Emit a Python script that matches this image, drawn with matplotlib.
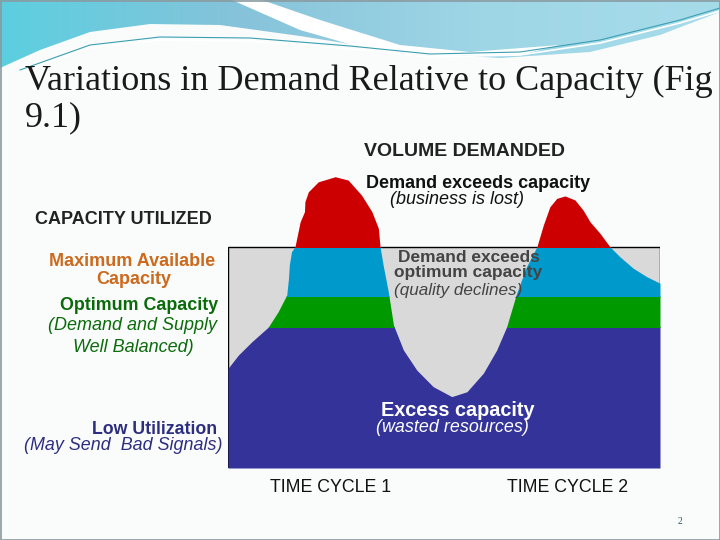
import numpy as np
import matplotlib.pyplot as plt
from matplotlib.patches import Rectangle, Polygon
from matplotlib.colors import LinearSegmentedColormap

# demand over two time cycles (time 0-100, capacity utilised in % of max capacity)
time = [0, 2.4, 5.5, 9.3, 11.6, 13.6, 14.0, 14.2, 14.7, 15.5, 16.7, 17.7, 17.8, 18.6,
        20.9, 24.8, 27.8, 30.9, 33.3, 34.8, 35.2, 35.9, 37.1, 38.3, 40.6, 43.7, 47.5,
        51.8, 55.3, 59.1, 62.2, 64.5, 66.8, 69.1, 71.5, 73.0, 74.5, 76.1, 78.0, 80.3,
        82.2, 83.8, 86.1, 88.4, 90.7, 93.8, 96.9, 100]
demand = [45.1, 51.1, 57.1, 63.7, 70.7, 78.3, 85.8, 91.9, 97.9, 100.1, 111.4, 116.0,
          120.5, 125.0, 129.5, 131.8, 130.3, 123.5, 116.0, 108.5, 100.1, 91.9, 79.8,
          64.7, 53.4, 44.3, 36.8, 32.3, 34.5, 42.9, 53.4, 63.9, 79.0, 91.1, 100.1,
          110.0, 118.2, 122.0, 123.1, 121.3, 116.7, 111.4, 106.2, 100.1, 95.6, 90.4,
          86.6, 83.6]

optimum_low = 64
optimum_high = 78
max_capacity = 100

band_edges = [0, optimum_low, optimum_high, max_capacity, 200]
band_colors = ['#333399', '#009900', '#0099cc', '#cc0000']

fig = plt.figure(figsize=(7.2, 5.4), dpi=100)
fig.patch.set_facecolor('#fafcfc')

# background decoration (pixel coords)
bg = fig.add_axes([0, 0, 1, 1], zorder=0)
bg.set_xlim(0, 720)
bg.set_ylim(540, 0)
bg.axis('off')
grad = np.linspace(0, 1, 256).reshape(1, -1)
top_shape = Polygon([(0, 0), (720, 0), (720, 12), (660, 35), (590, 52), (500, 58),
                     (400, 52), (300, 36), (220, 25), (150, 24), (90, 32), (40, 50),
                     (0, 68)], closed=True, facecolor='none', edgecolor='none')
bg.add_patch(top_shape)
cm = LinearSegmentedColormap.from_list('sky', ['#5ccfe0', '#86c3da', '#9fd6e6', '#a6dcea'])
im = bg.imshow(grad, cmap=cm, extent=[0, 720, 70, 0], aspect='auto', zorder=1)
im.set_clip_path(top_shape)
swoosh = Polygon([(232, 0), (262, 0), (320, 20), (400, 45), (470, 52), (560, 45),
                  (520, 55), (440, 56), (370, 50), (300, 30)], closed=True,
                 facecolor='#ffffff', edgecolor='none', zorder=2)
bg.add_patch(swoosh)
xs = np.array([20, 90, 160, 250, 350, 430, 520, 600, 680, 720])
bg.plot(xs, [70, 45, 37, 38, 46, 54, 52, 40, 20, 8], color='#3a9fb0', lw=0.8, zorder=3)
bg.plot(xs, [72, 48, 40, 41, 49, 57, 55, 43, 23, 11], color='#ffffff', lw=1.2, zorder=3)
bg.add_patch(Rectangle((0.5, 0.5), 719, 539, facecolor='none', edgecolor='#8a9aa0',
                       lw=1.2, zorder=4))

# chart
ax = fig.add_axes([228 / 720, 72 / 540, 432 / 720, 309.4 / 540], zorder=1)
ax.set_xlim(0, 100)
ax.set_ylim(0, 140)
ax.axis('off')
ax.add_patch(Rectangle((0, 0), 100, max_capacity, facecolor='#d9d9d9',
                       edgecolor='black', lw=1, zorder=1))
for lo, hi, col in zip(band_edges[:-1], band_edges[1:], band_colors):
    coll = ax.fill_between(time, 0, demand, color=col, lw=0, zorder=2)
    clip = Rectangle((-1, lo), 102, hi - lo, transform=ax.transData)
    coll.set_clip_path(clip)

# texts
tx = fig.add_axes([0, 0, 1, 1], zorder=3)
tx.set_xlim(0, 720)
tx.set_ylim(540, 0)
tx.axis('off')
tx.patch.set_alpha(0)

sans = 'Liberation Sans'
tx.text(25, 81, 'Variations in Demand Relative to Capacity (Fig', family='Liberation Serif',
        fontsize=26, color='#1a1a1a', va='center', ha='left', clip_on=True)
tx.text(25, 118, '9.1)', family='Liberation Serif', fontsize=26, color='#1a1a1a',
        va='center', ha='left')

tx.text(465, 152, 'VOLUME DEMANDED', family=sans, weight='bold', fontsize=14,
        color='#222222', ha='center', va='center')
tx.text(478, 183, 'Demand exceeds capacity', family=sans, weight='bold', fontsize=13,
        color='#111111', ha='center', va='center')
tx.text(457, 199, '(business is lost)', family=sans, style='italic', fontsize=13,
        color='#111111', ha='center', va='center')
tx.text(123, 220, 'CAPACITY UTILIZED', family=sans, weight='bold', fontsize=13,
        color='#222222', ha='center', va='center')

orange = '#cc6a1e'
tx.text(132, 262, 'Maximum Available', family=sans, weight='bold', fontsize=13,
        color=orange, ha='center', va='center')
tx.text(134, 280, 'Capacity', family=sans, weight='bold', fontsize=13,
        color=orange, ha='center', va='center')

green = '#0b6b0b'
tx.text(139, 306, 'Optimum Capacity', family=sans, weight='bold', fontsize=12.9,
        color=green, ha='center', va='center')
tx.text(132, 326, '(Demand and Supply', family=sans, style='italic', fontsize=13,
        color=green, ha='center', va='center')
tx.text(133, 347, 'Well Balanced)', family=sans, style='italic', fontsize=13,
        color=green, ha='center', va='center')

gray = '#444444'
tx.text(469, 257, 'Demand exceeds', family=sans, weight='bold', fontsize=12.5,
        color=gray, ha='center', va='center')
tx.text(468, 273, 'optimum capacity', family=sans, weight='bold', fontsize=12.5,
        color=gray, ha='center', va='center')
tx.text(458, 290, '(quality declines)', family=sans, style='italic', fontsize=12.3,
        color=gray, ha='center', va='center')

tx.text(458, 410, 'Excess capacity', family=sans, weight='bold', fontsize=14.3,
        color='white', ha='center', va='center')
tx.text(452, 428, '(wasted resources)', family=sans, style='italic', fontsize=12.9,
        color='white', ha='center', va='center')

navy = '#2e2e80'
tx.text(155, 429, 'Low Utilization', family=sans, weight='bold', fontsize=12.8,
        color=navy, ha='center', va='center')
tx.text(123, 446, '(May Send  Bad Signals)', family=sans, style='italic', fontsize=12.9,
        color=navy, ha='center', va='center')

tx.text(331, 488, 'TIME CYCLE 1', family=sans, fontsize=12.8, color='#111111',
        ha='center', va='center')
tx.text(568, 488, 'TIME CYCLE 2', family=sans, fontsize=12.8, color='#111111',
        ha='center', va='center')
tx.text(680, 522, '2', family='Liberation Serif', fontsize=7, color='#2a5560',
        ha='center', va='center')

fig.savefig('out.png', dpi=100, facecolor=fig.get_facecolor())
